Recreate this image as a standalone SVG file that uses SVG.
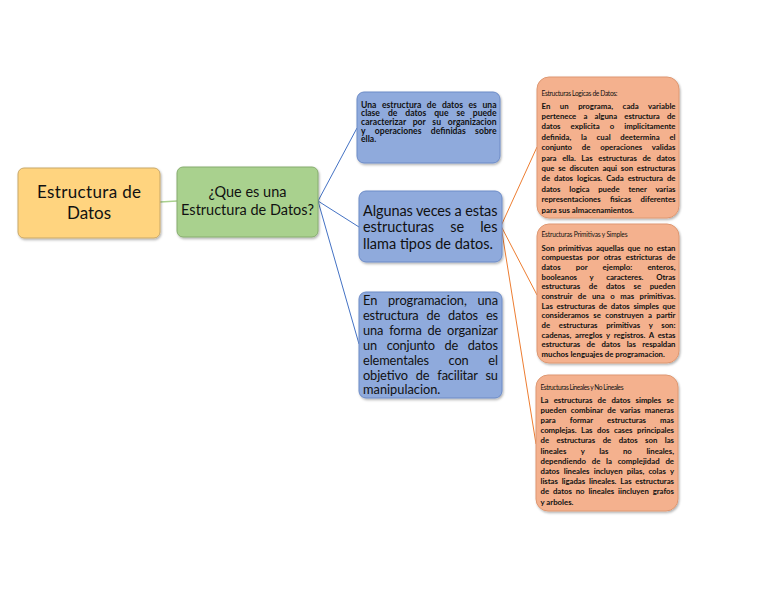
<svg xmlns="http://www.w3.org/2000/svg" width="768" height="594" viewBox="0 0 768 594">
<defs>
<style>
text{font-family:Lato,"Open Sans","Liberation Sans",sans-serif;fill:#111}
.yel{fill:#FFD47F;stroke:#C9A869;stroke-width:1}
.grn{fill:#A9D18E;stroke:#86AC6E;stroke-width:1}
.blu{fill:#8FAADC;stroke:#6C8BC7;stroke-width:1}
.sal{fill:#F4B18E;stroke:#DE9872;stroke-width:1}
.sm{font-size:7.8px;font-weight:700}
.tt{font-size:6.6px}
.b1{font-size:8.6px;font-weight:700}
.b2{font-size:14.5px}
.b3{font-size:12.8px}
.m{text-anchor:middle}
.cg{stroke:#A9D18E;stroke-width:1.5;fill:none}
.cb{stroke:#4472C4;stroke-width:1;fill:none}
.co{stroke:#ED7D31;stroke-width:1;fill:none}
</style>
<filter id="sh" x="-10%" y="-10%" width="130%" height="130%">
<feDropShadow dx="1" dy="1.5" stdDeviation="1.2" flood-color="#000" flood-opacity="0.3"/>
</filter>
</defs>
<rect width="768" height="594" fill="#fff"/>
<g id="connectors">
<line class="cg" x1="160" y1="202" x2="177" y2="201"/>
<line class="cb" x1="318" y1="201" x2="357" y2="128"/>
<line class="cb" x1="318" y1="201" x2="359" y2="227"/>
<line class="cb" x1="318" y1="201" x2="359" y2="344"/>
<line class="co" x1="501" y1="226" x2="537" y2="147"/>
<line class="co" x1="501" y1="226" x2="537" y2="295"/>
<line class="co" x1="501" y1="226" x2="536" y2="444"/>
</g>
<g id="root">
<rect class="yel" x="18" y="168" width="142" height="70" rx="6" filter="url(#sh)"/>
<text class="m" x="89" y="198" font-size="17" textLength="104" lengthAdjust="spacing">Estructura de</text>
<text class="m" x="89" y="219" font-size="17">Datos</text>
</g>
<g id="question">
<rect class="grn" x="177" y="167" width="141" height="70" rx="6" filter="url(#sh)"/>
<text class="m" x="247.5" y="197" font-size="14.5">¿Que es una</text>
<text class="m" x="247.5" y="214.5" font-size="14.5">Estructura de Datos?</text>
</g>
<g id="def1">
<rect class="blu" x="357" y="92" width="143" height="71" rx="7" filter="url(#sh)"/>
<text class="b1" x="361" y="107.5" word-spacing="3.5" textLength="135.5" lengthAdjust="spacing">Una estructura de datos es una</text>
<text class="b1" x="361" y="116.2" word-spacing="5.9" textLength="135.5" lengthAdjust="spacing">clase de datos que se puede</text>
<text class="b1" x="361" y="124.9" word-spacing="4.6" textLength="135.5" lengthAdjust="spacing">caracterizar por su organizacion</text>
<text class="b1" x="361" y="133.6" word-spacing="7.3" textLength="135.5" lengthAdjust="spacing">y operaciones definidas sobre</text>
<text class="b1" x="361" y="142.3">ella.</text>
</g>
<g id="def2">
<rect class="blu" x="359" y="191" width="143" height="71" rx="7" filter="url(#sh)"/>
<text class="b2" x="363" y="215.5" textLength="134.5" lengthAdjust="spacing">Algunas veces a estas</text>
<text class="b2" x="363" y="232" word-spacing="12.5" textLength="134.5" lengthAdjust="spacing">estructuras se les</text>
<text class="b2" x="363" y="248.5" textLength="130" lengthAdjust="spacing">llama tipos de datos.</text>
</g>
<g id="def3">
<rect class="blu" x="359" y="292" width="143" height="106" rx="7" filter="url(#sh)"/>
<text class="b3" x="363" y="304.5" word-spacing="7.6" textLength="135" lengthAdjust="spacing">En programacion, una</text>
<text class="b3" x="363" y="319.5" word-spacing="4.9" textLength="135" lengthAdjust="spacing">estructura de datos es</text>
<text class="b3" x="363" y="334.5" word-spacing="2.6" textLength="135" lengthAdjust="spacing">una forma de organizar</text>
<text class="b3" x="363" y="349.5" word-spacing="6.6" textLength="135" lengthAdjust="spacing">un conjunto de datos</text>
<text class="b3" x="363" y="364.5" word-spacing="16.5" textLength="135" lengthAdjust="spacing">elementales con el</text>
<text class="b3" x="363" y="379.5" word-spacing="4.8" textLength="135" lengthAdjust="spacing">objetivo de facilitar su</text>
<text class="b3" x="363" y="394">manipulacion.</text>
</g>
<g id="logicas">
<rect class="sal" x="537" y="77" width="142" height="141" rx="12" filter="url(#sh)"/>
<text class="tt" x="541.5" y="95.5" textLength="76" lengthAdjust="spacing">Estructuras Logicas de Datos:</text>
<text class="sm" x="541.5" y="108.5" word-spacing="7.6" textLength="134" lengthAdjust="spacing">En un programa, cada variable</text>
<text class="sm" x="541.5" y="118.9" word-spacing="5.3" textLength="134" lengthAdjust="spacing">pertenece a alguna estructura de</text>
<text class="sm" x="541.5" y="129.3" word-spacing="8.2" textLength="134" lengthAdjust="spacing">datos explicita o implicitamente</text>
<text class="sm" x="541.5" y="139.7" word-spacing="7.8" textLength="134" lengthAdjust="spacing">definida, la cual deetermina el</text>
<text class="sm" x="541.5" y="150.1" word-spacing="7.9" textLength="134" lengthAdjust="spacing">conjunto de operaciones validas</text>
<text class="sm" x="541.5" y="160.5" word-spacing="3.8" textLength="134" lengthAdjust="spacing">para ella. Las estructuras de datos</text>
<text class="sm" x="541.5" y="170.9" word-spacing="2" textLength="134" lengthAdjust="spacing">que se discuten aqui son estructuras</text>
<text class="sm" x="541.5" y="181.3" word-spacing="2.2" textLength="134" lengthAdjust="spacing">de datos logicas. Cada estructura de</text>
<text class="sm" x="541.5" y="191.7" word-spacing="7" textLength="134" lengthAdjust="spacing">datos logica puede tener varias</text>
<text class="sm" x="541.5" y="202.1" word-spacing="7.5" textLength="134" lengthAdjust="spacing">representaciones fisicas diferentes</text>
<text class="sm" x="541.5" y="212.5">para sus almacenamientos.</text>
</g>
<g id="primitivas">
<rect class="sal" x="537" y="224" width="142" height="139" rx="12" filter="url(#sh)"/>
<text class="tt" x="541.5" y="237" textLength="86" lengthAdjust="spacing">Estructuras Primitivas y Simples</text>
<text class="sm" x="541.5" y="250.8" word-spacing="1.9" textLength="134" lengthAdjust="spacing">Son primitivas aquellas que no estan</text>
<text class="sm" x="541.5" y="260.45" word-spacing="2.9" textLength="134" lengthAdjust="spacing">compuestas por otras estricturas de</text>
<text class="sm" x="541.5" y="270.1" word-spacing="13.3" textLength="134" lengthAdjust="spacing">datos por ejemplo: enteros,</text>
<text class="sm" x="541.5" y="279.75" word-spacing="10.9" textLength="134" lengthAdjust="spacing">booleanos y caracteres. Otras</text>
<text class="sm" x="541.5" y="289.4" word-spacing="6.8" textLength="134" lengthAdjust="spacing">estructuras de datos se pueden</text>
<text class="sm" x="541.5" y="299.05" word-spacing="3.7" textLength="134" lengthAdjust="spacing">construir de una o mas primitivas.</text>
<text class="sm" x="541.5" y="308.7" word-spacing="1.8" textLength="134" lengthAdjust="spacing">Las estructuras de datos simples que</text>
<text class="sm" x="541.5" y="318.35" word-spacing="2.5" textLength="134" lengthAdjust="spacing">consideramos se construyen a partir</text>
<text class="sm" x="541.5" y="328" word-spacing="6.9" textLength="134" lengthAdjust="spacing">de estructuras primitivas y son:</text>
<text class="sm" x="541.5" y="337.65" word-spacing="1.9" textLength="134" lengthAdjust="spacing">cadenas, arreglos y registros. A estas</text>
<text class="sm" x="541.5" y="347.3" word-spacing="4.5" textLength="134" lengthAdjust="spacing">estructuras de datos las respaldan</text>
<text class="sm" x="541.5" y="356.95">muchos lenguajes de programacion.</text>
</g>
<g id="lineales">
<rect class="sal" x="536" y="375" width="142" height="136" rx="12" filter="url(#sh)"/>
<text class="tt" x="540.5" y="390" textLength="83" lengthAdjust="spacing">Estructuras Lineales y No Lineales</text>
<text class="sm" x="540.5" y="402.5" word-spacing="3.5" textLength="133.5" lengthAdjust="spacing">La estructuras de datos simples se</text>
<text class="sm" x="540.5" y="412.7" word-spacing="2.4" textLength="133.5" lengthAdjust="spacing">pueden combinar de varias maneras</text>
<text class="sm" x="540.5" y="422.9" word-spacing="12.2" textLength="133.5" lengthAdjust="spacing">para formar estructuras mas</text>
<text class="sm" x="540.5" y="433.1" word-spacing="2.8" textLength="133.5" lengthAdjust="spacing">complejas. Las dos cases principales</text>
<text class="sm" x="540.5" y="443.3" word-spacing="5.7" textLength="133.5" lengthAdjust="spacing">de estructuras de datos son las</text>
<text class="sm" x="540.5" y="453.5" word-spacing="12.7" textLength="133.5" lengthAdjust="spacing">lineales y las no lineales,</text>
<text class="sm" x="540.5" y="463.7" word-spacing="3.85" textLength="133.5" lengthAdjust="spacing">dependiendo de la complejidad de</text>
<text class="sm" x="540.5" y="473.9" word-spacing="2.4" textLength="133.5" lengthAdjust="spacing">datos lineales incluyen pilas, colas y</text>
<text class="sm" x="540.5" y="484.1" word-spacing="2" textLength="133.5" lengthAdjust="spacing">listas ligadas lineales. Las estructuras</text>
<text class="sm" x="540.5" y="494.3" word-spacing="2" textLength="133.5" lengthAdjust="spacing">de datos no lineales iincluyen grafos</text>
<text class="sm" x="540.5" y="504.5">y arboles.</text>
</g>
</svg>
